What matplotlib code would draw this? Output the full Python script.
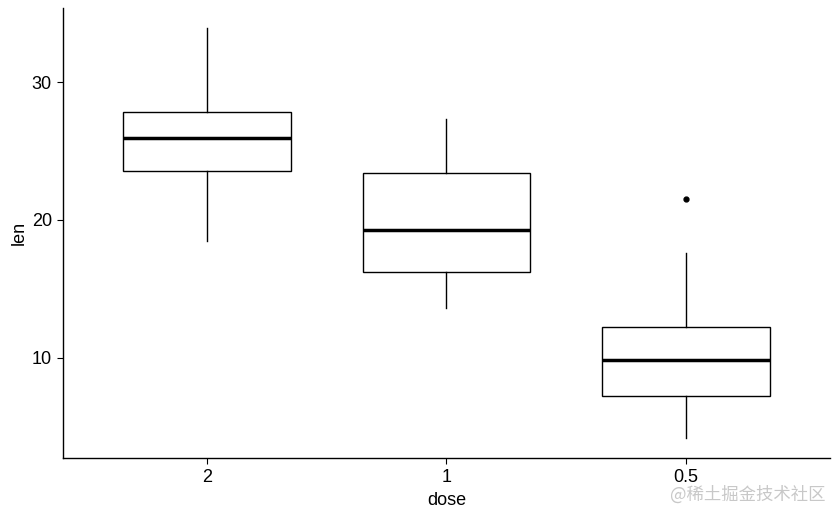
import matplotlib
matplotlib.use('Agg')
import matplotlib.pyplot as plt

# ToothGrowth tooth length by dose (order as shown)
doses = ['2', '1', '0.5']
len_dose2 = [23.6, 18.5, 33.9, 25.5, 26.4, 32.5, 26.7, 21.5, 23.3, 29.5,
             25.5, 26.4, 22.4, 24.5, 24.8, 30.9, 26.4, 27.3, 29.4, 23.0]
len_dose1 = [16.5, 16.5, 15.2, 17.3, 22.5, 17.3, 13.6, 14.5, 18.8, 15.5,
             19.7, 23.3, 23.6, 26.4, 20.0, 25.2, 25.8, 21.2, 14.5, 27.3]
len_dose05 = [4.2, 11.5, 7.3, 5.8, 6.4, 10.0, 11.2, 11.2, 5.2, 7.0,
              15.2, 21.5, 17.6, 9.7, 14.5, 10.0, 8.2, 9.4, 16.5, 9.7]
yticks = [10, 20, 30]

plt.rcParams['font.family'] = ['Liberation Sans', 'DejaVu Sans']

fig = plt.figure(figsize=(8.4, 5.19), dpi=100)
ax = fig.add_axes([63 / 840, 1 - 458 / 519, 767 / 840, 450 / 519])

positions = [1, 2, 3]
ax.boxplot([len_dose2, len_dose1, len_dose05], positions=positions, widths=0.7,
           whis=1.5, patch_artist=True,
           boxprops=dict(facecolor='white', edgecolor='black', linewidth=1.0),
           medianprops=dict(color='black', linewidth=2.5),
           whiskerprops=dict(color='black', linewidth=1.0),
           capprops=dict(linewidth=0),
           flierprops=dict(marker='o', markerfacecolor='black', markeredgecolor='black',
                           markersize=3.5))

ax.set_xlim(0.4, 3.6)
ax.set_ylim(2.715, 35.385)
ax.set_xticks(positions)
ax.set_xticklabels(doses)
ax.set_yticks(yticks)
ax.tick_params(labelsize=13, colors='black', length=4, width=0.8, pad=4)
ax.set_xlabel('dose', fontsize=13, labelpad=4)
ax.set_ylabel('len', fontsize=13, labelpad=3)

for s in ['top', 'right']:
    ax.spines[s].set_visible(False)
for s in ['left', 'bottom']:
    ax.spines[s].set_linewidth(1.0)
    ax.spines[s].set_color('black')

fig.text(0.983, 1 - 495 / 519, '@稀土掘金技术社区', ha='right', va='center', fontsize=12.5,
         color='#c8c8c8', family=['Noto Sans CJK SC', 'DejaVu Sans'])

fig.savefig('out.png', dpi=100, facecolor='white')
